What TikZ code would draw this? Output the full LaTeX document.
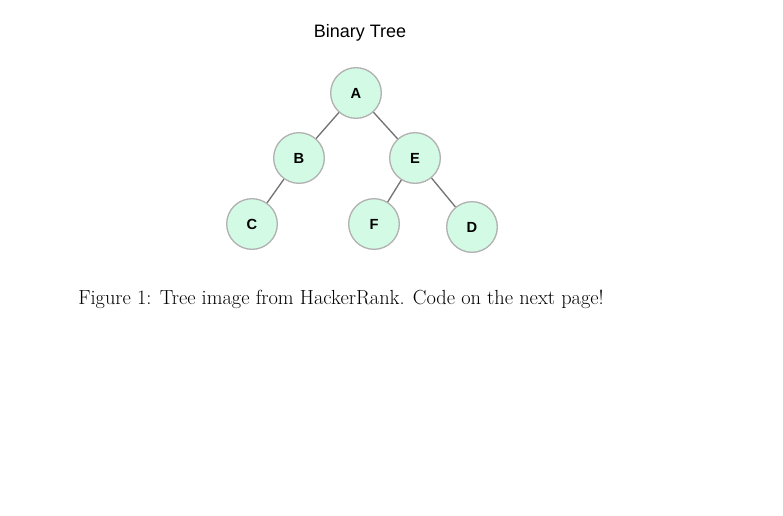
\documentclass[tikz,border=0pt]{standalone}
\usepackage{fontspec}
\newfontfamily\sans{Liberation Sans}
\begin{document}
\begin{tikzpicture}[x=0.75pt,y=-0.75pt,
  tn/.style={circle,draw=black!30,line width=1pt,fill={rgb,255:red,210;green,250;blue,228},minimum size=38pt,inner sep=0pt,font=\sans\bfseries\fontsize{11}{13}\selectfont},
  ed/.style={draw=black!55,line width=1pt}]
\useasboundingbox (0,0) rectangle (783,515);
\node[font=\sans\fontsize{13.5}{16}\selectfont] (t) at (360,33) {Binary Tree};
\node[tn] (A) at (356,93) {A};
\node[tn] (B) at (299,158) {B};
\node[tn] (E) at (415,158) {E};
\node[tn] (C) at (252,224) {C};
\node[tn] (F) at (374,224) {F};
\node[tn] (D) at (472,227) {D};
\draw[ed] (A)--(B); \draw[ed] (A)--(E);
\draw[ed] (B)--(C); \draw[ed] (E)--(F); \draw[ed] (E)--(D);
\node[anchor=west,font=\fontsize{15.3}{18}\selectfont,inner sep=0pt] (cap) at (78,299) {Figure 1: Tree image from HackerRank. Code on the next page!};
\end{tikzpicture}
\end{document}
